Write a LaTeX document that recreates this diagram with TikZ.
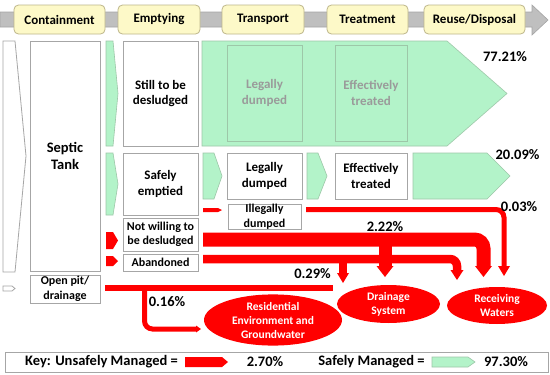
\documentclass[tikz,border=0pt]{standalone}
\usepackage{fontspec}
\setmainfont{Carlito}
\usetikzlibrary{shapes.geometric}
\definecolor{hdrfill}{HTML}{FDF9C8}
\definecolor{hdrline}{HTML}{BDB68A}
\definecolor{bargray}{HTML}{BFBFBF}
\definecolor{barline}{HTML}{A5A5A5}
\definecolor{safegreen}{HTML}{B3F3C9}
\definecolor{greenline}{HTML}{9DC7A8}
\definecolor{boxline}{HTML}{A6A6A6}
\definecolor{fainttext}{HTML}{9A9A9A}
\definecolor{unsafe}{HTML}{FF0000}
\newcommand\flowheaddown[3]{\fill[unsafe] ([xshift=-#2]#1) -- ([xshift=#2]#1) -- ([yshift=-#3]#1) -- cycle;}
\begin{document}
\begin{tikzpicture}[x=1pt,y=-1pt,
  hdr/.style={draw=hdrline, fill=hdrfill, rounded corners=4.5pt, line width=0.8pt, minimum height=29pt, inner sep=0pt, font=\fontsize{13}{15.5}\selectfont\bfseries},
  box/.style={draw=boxline, fill=white, line width=0.8pt, align=center, inner sep=0pt, font=\fontsize{13}{15.5}\selectfont\bfseries},
  sbox/.style={box, font=\fontsize{12}{14.5}\selectfont\bfseries},
  faint/.style={draw=greenline, line width=0.6pt, align=center, inner sep=0pt, text=fainttext, font=\fontsize{13}{15.5}\selectfont\bfseries},
  safe/.style={fill=safegreen, draw=greenline, line width=0.6pt},
  redchev/.style={fill=unsafe},
  pct/.style={inner sep=0pt, font=\fontsize{14.5}{17}\selectfont\bfseries},
  sink/.style={ellipse, fill=unsafe, inner sep=0pt, align=center, text=white, font=\fontsize{11.5}{14}\selectfont\bfseries},
  bandA/.style={draw=unsafe, line width=14pt, rounded corners=9pt},
  bandB/.style={draw=unsafe, line width=8.5pt, rounded corners=7pt},
  bandC/.style={draw=unsafe, line width=5pt, rounded corners=8pt},
  keytext/.style={inner sep=0pt, font=\fontsize{14.5}{17}\selectfont\bfseries}]
\useasboundingbox (0,0) rectangle (550,375);
\fill[white] (0,0) rectangle (550,375);

% banner arrow
\filldraw[fill=bargray, draw=barline, line width=0.6pt]
  (0,12) -- (532,12) -- (532,5) -- (548,20) -- (532,35) -- (532,27) -- (0,27) -- cycle;
\node[hdr, minimum width=91pt] (hcont) at (59.5,19.5) {Containment};
\node[hdr, minimum width=82pt] (hempt) at (159,19.5) {Emptying};
\node[hdr, minimum width=82pt] (htran) at (263,19.5) {Transport};
\node[hdr, minimum width=81pt] (htreat) at (367.5,19.5) {Treatment};
\node[hdr, minimum width=101pt] (hreuse) at (474.5,19.5) {Reuse/Disposal};

% containment column
\filldraw[fill=white, draw=boxline, line width=0.8pt]
  (3,41) -- (15,41) -- (26,156) -- (15,272) -- (3,272) -- cycle;
\filldraw[fill=white, draw=boxline, line width=0.8pt]
  (3,286) -- (12,286) -- (15,288.5) -- (12,291) -- (3,291) -- cycle;
\node[box, minimum width=70pt, minimum height=230pt, font=\fontsize{14.5}{17}\selectfont\bfseries] (septic) at (65,156) {Septic\\Tank};
\node[sbox, minimum width=70pt, minimum height=28pt] (openpit) at (65,289) {Open pit/\\drainage};

% emptying column
\filldraw[safe] (106,41) -- (113,41) -- (118,93.5) -- (113,146) -- (106,146) -- cycle;
\filldraw[safe] (106,153) -- (113,153) -- (118,184) -- (113,215) -- (106,215) -- cycle;
\fill[redchev] (106,232) -- (113,232) -- (118,240.5) -- (113,249) -- (106,249) -- cycle;
\fill[redchev] (106,256) -- (113,256) -- (118,261) -- (113,266) -- (106,266) -- cycle;
\node[box, minimum width=75pt, minimum height=105pt] (still) at (160.5,93.5) {Still to be\\desludged};
\node[box, minimum width=75pt, minimum height=62pt] (safely) at (160.5,184) {Safely\\emptied};
\node[sbox, minimum width=75pt, minimum height=33pt] (notwill) at (160.5,234.5) {Not willing to\\be desludged};
\node[sbox, minimum width=75pt, minimum height=17pt] (aband) at (160.5,262.5) {Abandoned};

% safely managed top row
\filldraw[safe] (202,41) -- (447,41) -- (507,93.5) -- (447,146) -- (202,146) -- cycle;
\node[faint, minimum width=75pt, minimum height=96pt] (legal1) at (264.5,93) {Legally\\dumped};
\node[faint, minimum width=72pt, minimum height=96pt] (treat1) at (371,93) {Effectively\\treated};
\node[pct] (p7721) at (505,57) {77.21\%};

% second row
\filldraw[safe] (203,153) -- (214,153) -- (222,176) -- (214,199) -- (203,199) -- cycle;
\filldraw[safe] (307,153) -- (318,153) -- (327,176) -- (318,199) -- (307,199) -- cycle;
\filldraw[safe] (413,153) -- (487,153) -- (510,176) -- (487,199) -- (413,199) -- cycle;
\node[box, minimum width=75pt, minimum height=46pt] (legal2) at (264.5,176) {Legally\\dumped};
\node[box, minimum width=72pt, minimum height=46pt] (treat2) at (371,176) {Effectively\\treated};
\node[pct] (p2009) at (517.5,155) {20.09\%};

% illegal dumping
\fill[redchev] (203,208) -- (218,208) -- (222,210) -- (218,212) -- (203,212) -- cycle;
\node[sbox, minimum width=73pt, minimum height=25pt] (illegal) at (264.5,216.5) {Illegally\\dumped};

% sinks
\node[sink, minimum width=138pt, minimum height=44pt] (resid) at (273,320) {Residential\\Environment and\\Groundwater};
\node[sink, minimum width=103pt, minimum height=38pt] (drain) at (388.5,304) {Drainage\\System};
\node[sink, minimum width=100pt, minimum height=37pt] (recv) at (497,305.5) {Receiving\\Waters};

% unsafe flows
\coordinate (cS) at (306,209.5);
\coordinate (cE) at (504,266);
\draw[bandC] (cS) -| (cE);
\flowheaddown{cE}{6pt}{10pt}

\coordinate (aS) at (203,239.5);
\coordinate (aE) at (483.5,266);
\draw[bandA] (aS) -| (aE);
\flowheaddown{aE}{8.5pt}{11pt}
\coordinate (aB) at (385,245);
\coordinate (aBE) at (385,266);
\draw[draw=unsafe, line width=13pt] (aB) -- (aBE);
\flowheaddown{aBE}{8.5pt}{11pt}

\coordinate (bS) at (203,259);
\coordinate (bE) at (457,270);
\draw[bandB] (bS) -| (bE);
\flowheaddown{bE}{6.5pt}{10pt}
\coordinate (bB) at (343,261);
\coordinate (bBE) at (343,273);
\draw[draw=unsafe, line width=8pt] (bB) -- (bBE);
\flowheaddown{bBE}{6pt}{10pt}

\coordinate (oS) at (105,288);
\coordinate (oE) at (333,288);
\draw[draw=unsafe, line width=5.5pt] (oS) -- (oE);
\coordinate (oB) at (144.5,286);
\coordinate (oBE) at (196,329);
\draw[bandC] (oB) |- (oBE);
\fill[unsafe] ([yshift=3.5pt]oBE) -- ([yshift=-3.5pt]oBE) -- ([xshift=5pt]oBE) -- cycle;

\node[pct] (p003) at (519,206.5) {0.03\%};
\node[pct] (p222) at (385,226.5) {2.22\%};
\node[pct] (p029) at (312.5,274) {0.29\%};
\node[pct] (p016) at (167,302) {0.16\%};

% key
\node[draw=boxline, line width=1pt, fill=white, minimum width=543pt, minimum height=20pt, inner sep=0pt] (key) at (276.5,362) {};
\node[keytext] (kun) at (101.5,362) {Key: Unsafely Managed =};
\fill[unsafe] (185,357) -- (222,357) -- (228,362) -- (222,367) -- (185,367) -- cycle;
\node[keytext] (k270) at (265,362) {2.70\%};
\node[keytext] (ksafe) at (371.5,362) {Safely Managed =};
\filldraw[safe] (432,357) -- (468,357) -- (475,362) -- (468,367) -- (432,367) -- cycle;
\node[keytext] (k9730) at (506,362) {97.30\%};
\end{tikzpicture}
\end{document}
